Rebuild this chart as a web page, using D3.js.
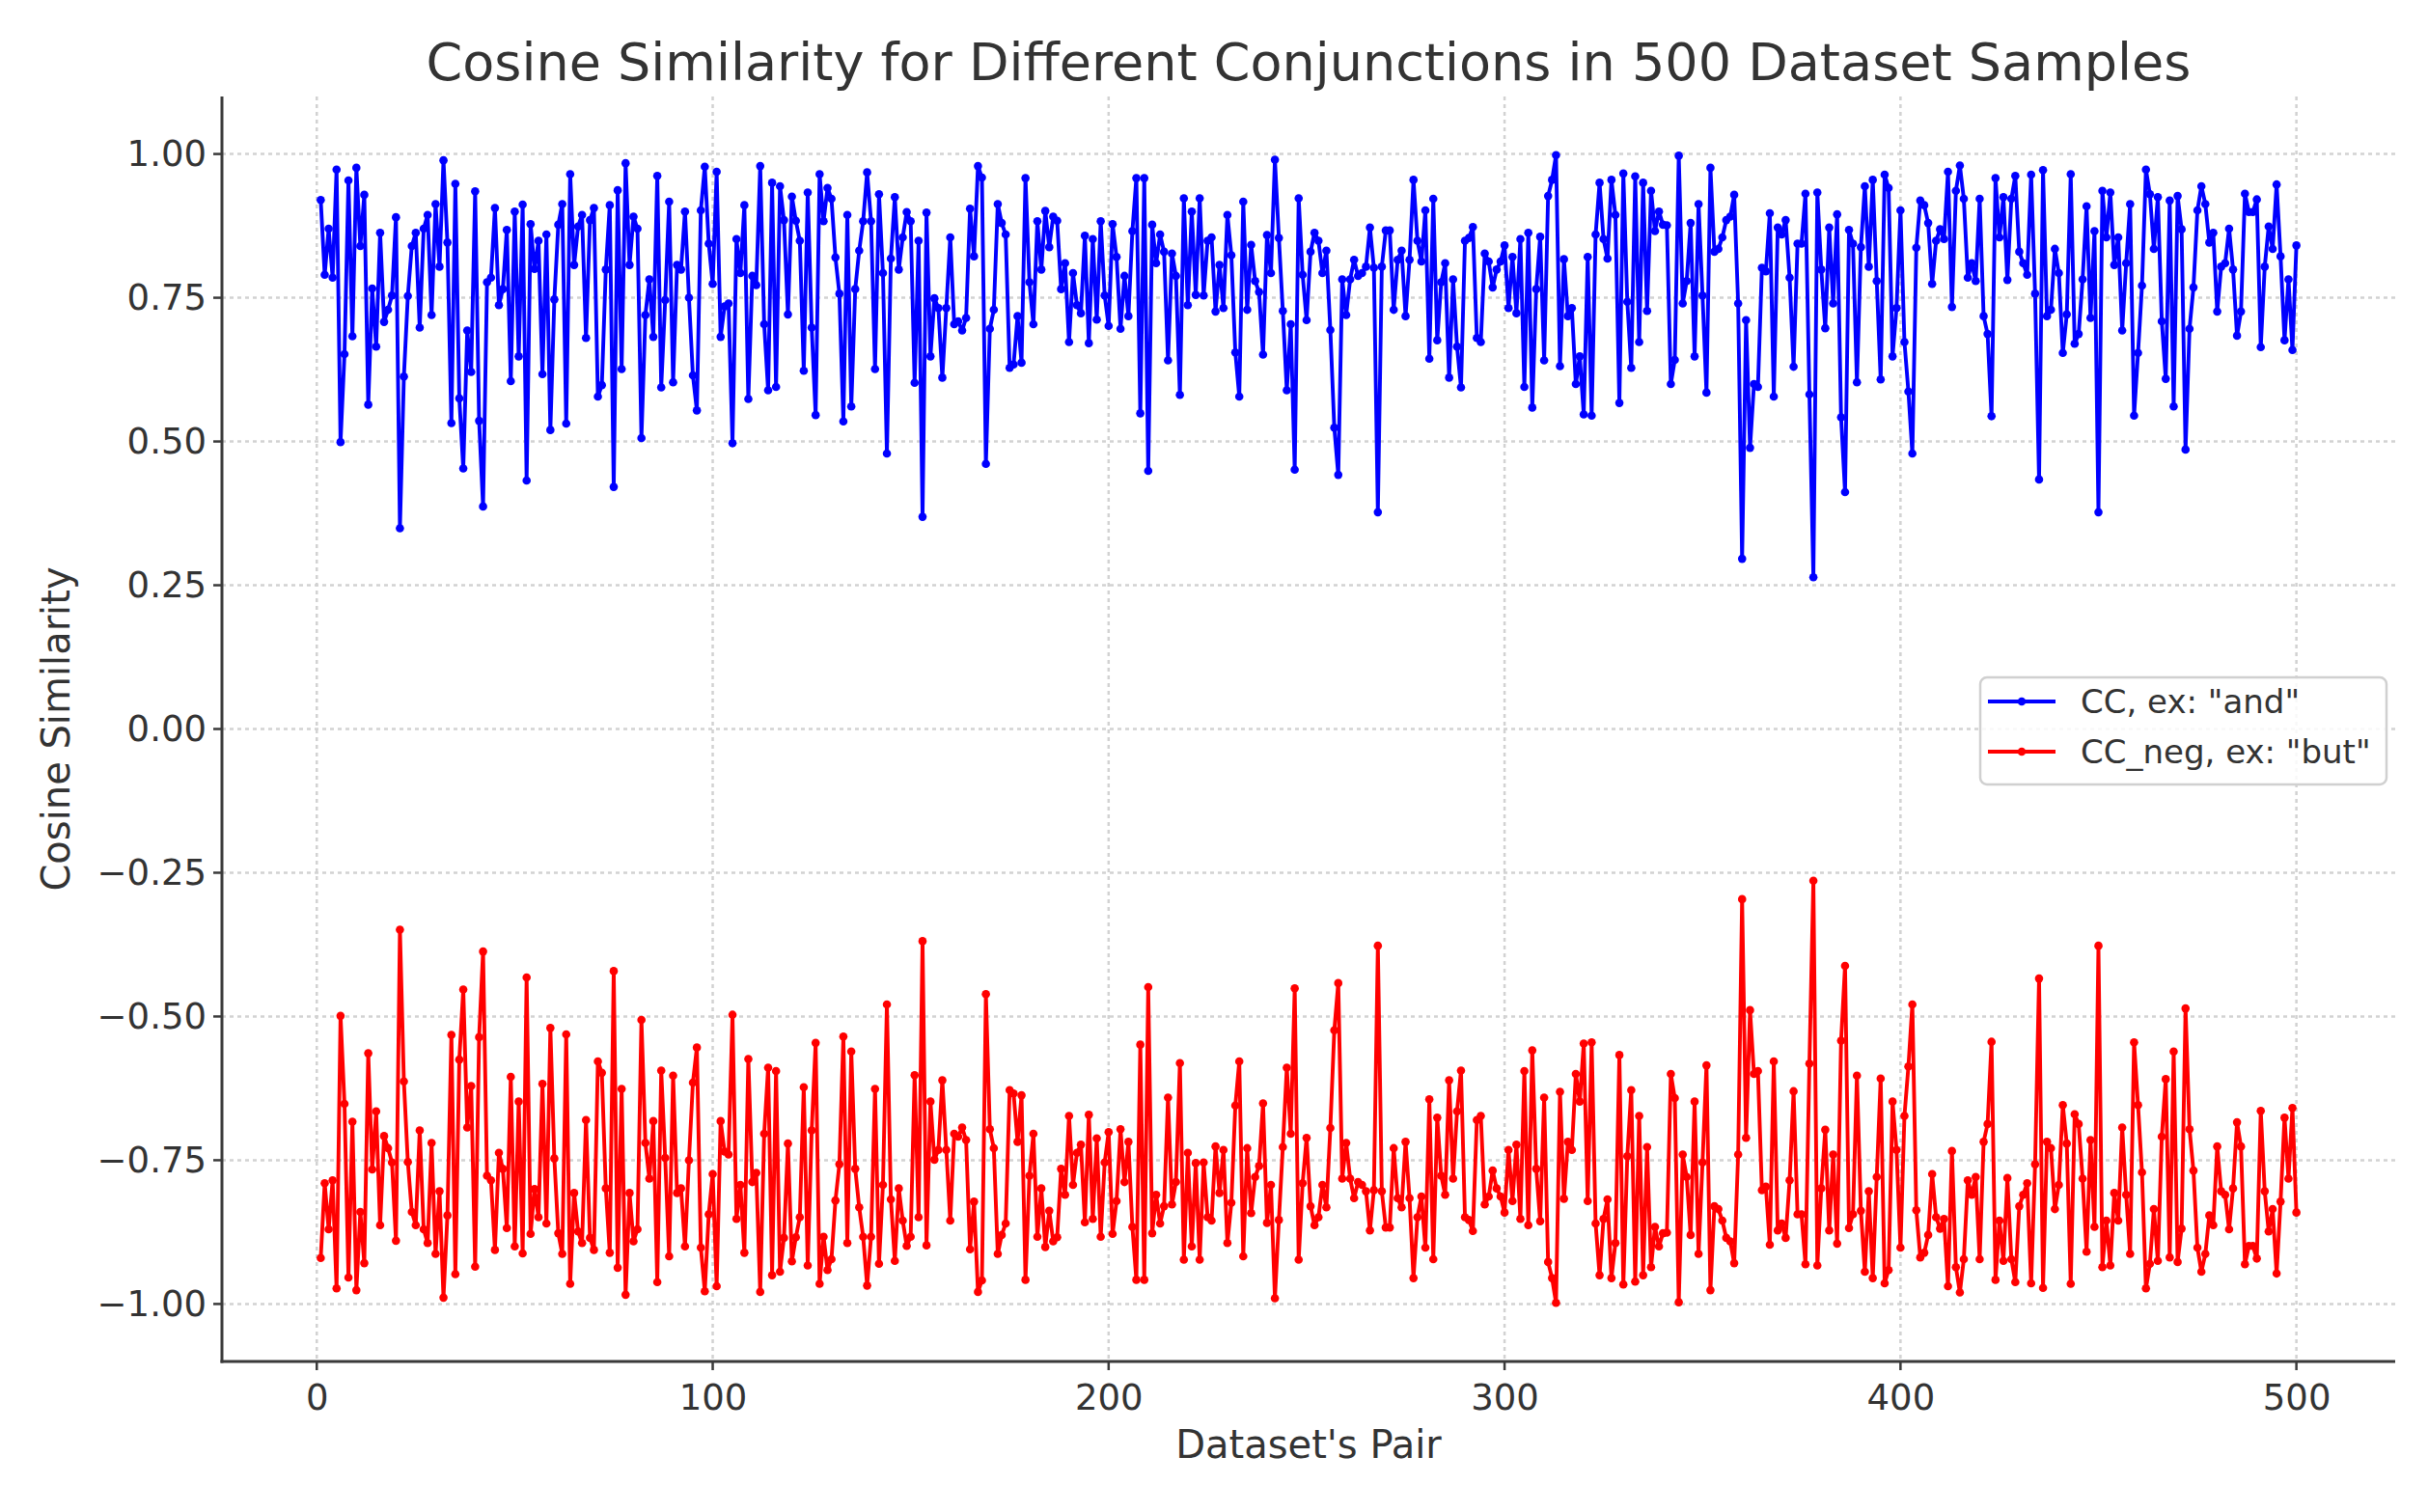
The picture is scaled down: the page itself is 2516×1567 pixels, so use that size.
<!DOCTYPE html>
<html>
<head>
<meta charset="utf-8">
<script src="https://cdn.jsdelivr.net/npm/d3@7"></script>
<style>
  html, body { margin: 0; padding: 0; background: #ffffff; }
  svg { display: block; }
  text { font-family: "DejaVu Sans", "Liberation Sans", sans-serif; }
</style>
</head>
<body>
<svg id="chart" width="2516" height="1567"></svg>
<script>
// ---------------- data ----------------
const chartTitle = "Cosine Similarity for Different Conjunctions in 500 Dataset Samples";
const xAxisLabel = "Dataset's Pair";
const yAxisLabel = "Cosine Similarity";
const seriesNames = ['CC, ex: "and"', 'CC_neg, ex: "but"'];
const seriesColors = ["#0000ff", "#ff0000"];

const xTickValues = [0, 100, 200, 300, 400, 500];
const xTickLabels = ["0", "100", "200", "300", "400", "500"];
const yTickValues = [1.0, 0.75, 0.5, 0.25, 0.0, -0.25, -0.5, -0.75, -1.0];
const yTickLabels = ["1.00", "0.75", "0.50", "0.25", "0.00", "\u22120.25", "\u22120.50", "\u22120.75", "\u22121.00"];

const pairIndex = d3.range(1, 501);

const cosineAnd = [
0.92,0.79,0.87,0.785,0.973,0.499,0.652,0.954,0.683,0.976,
0.84,0.929,0.564,0.766,0.665,0.863,0.708,0.729,0.754,0.89,
0.349,0.613,0.753,0.84,0.863,0.698,0.87,0.894,0.72,0.913,
0.804,0.989,0.846,0.532,0.948,0.575,0.453,0.693,0.621,0.935,
0.536,0.387,0.777,0.785,0.906,0.737,0.765,0.868,0.605,0.9,
0.648,0.912,0.432,0.878,0.8,0.849,0.617,0.86,0.52,0.747,
0.877,0.913,0.531,0.965,0.807,0.874,0.894,0.68,0.885,0.906,
0.578,0.598,0.799,0.911,0.421,0.937,0.626,0.984,0.807,0.891,
0.87,0.506,0.72,0.782,0.682,0.962,0.594,0.746,0.917,0.603,
0.807,0.799,0.9,0.75,0.615,0.554,0.902,0.978,0.844,0.774,
0.969,0.682,0.735,0.74,0.497,0.852,0.793,0.911,0.574,0.788,
0.772,0.979,0.704,0.589,0.95,0.595,0.944,0.885,0.721,0.926,
0.884,0.849,0.623,0.933,0.698,0.546,0.965,0.883,0.941,0.922,
0.82,0.757,0.535,0.894,0.561,0.765,0.832,0.883,0.968,0.883,
0.626,0.93,0.793,0.479,0.818,0.925,0.799,0.855,0.899,0.883,
0.602,0.849,0.369,0.898,0.648,0.749,0.732,0.611,0.732,0.855,
0.704,0.709,0.693,0.715,0.905,0.822,0.979,0.959,0.461,0.696,
0.729,0.913,0.88,0.86,0.628,0.634,0.718,0.637,0.958,0.777,
0.704,0.883,0.799,0.901,0.838,0.891,0.884,0.765,0.81,0.673,
0.793,0.737,0.723,0.858,0.671,0.852,0.712,0.883,0.754,0.701,
0.878,0.821,0.696,0.788,0.718,0.866,0.958,0.549,0.958,0.449,
0.877,0.81,0.86,0.83,0.641,0.827,0.788,0.581,0.923,0.737,
0.9,0.755,0.923,0.754,0.849,0.855,0.726,0.807,0.732,0.894,
0.824,0.655,0.578,0.917,0.729,0.842,0.779,0.76,0.651,0.859,
0.793,0.99,0.854,0.727,0.589,0.704,0.451,0.923,0.79,0.711,
0.83,0.863,0.849,0.793,0.832,0.694,0.524,0.442,0.782,0.72,
0.782,0.816,0.788,0.793,0.804,0.872,0.802,0.377,0.804,0.867,
0.867,0.729,0.816,0.832,0.718,0.816,0.955,0.849,0.813,0.902,
0.644,0.922,0.676,0.777,0.81,0.611,0.782,0.665,0.594,0.849,
0.854,0.873,0.68,0.673,0.827,0.813,0.768,0.799,0.813,0.841,
0.732,0.821,0.723,0.852,0.595,0.863,0.559,0.765,0.856,0.641,
0.927,0.955,0.998,0.631,0.817,0.718,0.732,0.6,0.648,0.547,
0.821,0.545,0.86,0.95,0.852,0.818,0.955,0.894,0.567,0.966,
0.743,0.628,0.961,0.673,0.95,0.727,0.936,0.866,0.9,0.877,
0.876,0.6,0.642,0.997,0.74,0.779,0.88,0.648,0.913,0.754,
0.585,0.976,0.83,0.835,0.855,0.885,0.891,0.929,0.74,0.296,
0.711,0.489,0.6,0.595,0.802,0.796,0.897,0.578,0.872,0.86,
0.885,0.785,0.63,0.844,0.844,0.931,0.582,0.264,0.933,0.799,
0.697,0.872,0.74,0.895,0.542,0.412,0.868,0.844,0.603,0.838,
0.944,0.804,0.955,0.779,0.608,0.964,0.941,0.648,0.732,0.902,
0.673,0.587,0.479,0.837,0.919,0.911,0.88,0.774,0.849,0.869,
0.852,0.969,0.734,0.936,0.98,0.922,0.785,0.81,0.779,0.922,
0.718,0.687,0.544,0.958,0.855,0.925,0.781,0.922,0.962,0.83,
0.81,0.79,0.964,0.757,0.434,0.972,0.718,0.729,0.835,0.793,
0.654,0.721,0.965,0.67,0.687,0.782,0.909,0.715,0.866,0.377,
0.936,0.855,0.933,0.807,0.855,0.693,0.81,0.913,0.545,0.654,
0.771,0.973,0.93,0.835,0.925,0.709,0.609,0.919,0.561,0.927,
0.869,0.486,0.696,0.768,0.902,0.944,0.913,0.846,0.863,0.726,
0.804,0.81,0.87,0.799,0.684,0.726,0.931,0.899,0.899,0.921,
0.664,0.804,0.874,0.835,0.947,0.822,0.676,0.782,0.659,0.841
];

const cosineBut = [
-0.92,-0.79,-0.87,-0.785,-0.973,-0.499,-0.652,-0.954,-0.683,-0.976,
-0.84,-0.929,-0.564,-0.766,-0.665,-0.863,-0.708,-0.729,-0.754,-0.89,
-0.349,-0.613,-0.753,-0.84,-0.863,-0.698,-0.87,-0.894,-0.72,-0.913,
-0.804,-0.989,-0.846,-0.532,-0.948,-0.575,-0.453,-0.693,-0.621,-0.935,
-0.536,-0.387,-0.777,-0.785,-0.906,-0.737,-0.765,-0.868,-0.605,-0.9,
-0.648,-0.912,-0.432,-0.878,-0.8,-0.849,-0.617,-0.86,-0.52,-0.747,
-0.877,-0.913,-0.531,-0.965,-0.807,-0.874,-0.894,-0.68,-0.885,-0.906,
-0.578,-0.598,-0.799,-0.911,-0.421,-0.937,-0.626,-0.984,-0.807,-0.891,
-0.87,-0.506,-0.72,-0.782,-0.682,-0.962,-0.594,-0.746,-0.917,-0.603,
-0.807,-0.799,-0.9,-0.75,-0.615,-0.554,-0.902,-0.978,-0.844,-0.774,
-0.969,-0.682,-0.735,-0.74,-0.497,-0.852,-0.793,-0.911,-0.574,-0.788,
-0.772,-0.979,-0.704,-0.589,-0.95,-0.595,-0.944,-0.885,-0.721,-0.926,
-0.884,-0.849,-0.623,-0.933,-0.698,-0.546,-0.965,-0.883,-0.941,-0.922,
-0.82,-0.757,-0.535,-0.894,-0.561,-0.765,-0.832,-0.883,-0.968,-0.883,
-0.626,-0.93,-0.793,-0.479,-0.818,-0.925,-0.799,-0.855,-0.899,-0.883,
-0.602,-0.849,-0.369,-0.898,-0.648,-0.749,-0.732,-0.611,-0.732,-0.855,
-0.704,-0.709,-0.693,-0.715,-0.905,-0.822,-0.979,-0.959,-0.461,-0.696,
-0.729,-0.913,-0.88,-0.86,-0.628,-0.634,-0.718,-0.637,-0.958,-0.777,
-0.704,-0.883,-0.799,-0.901,-0.838,-0.891,-0.884,-0.765,-0.81,-0.673,
-0.793,-0.737,-0.723,-0.858,-0.671,-0.852,-0.712,-0.883,-0.754,-0.701,
-0.878,-0.821,-0.696,-0.788,-0.718,-0.866,-0.958,-0.549,-0.958,-0.449,
-0.877,-0.81,-0.86,-0.83,-0.641,-0.827,-0.788,-0.581,-0.923,-0.737,
-0.9,-0.755,-0.923,-0.754,-0.849,-0.855,-0.726,-0.807,-0.732,-0.894,
-0.824,-0.655,-0.578,-0.917,-0.729,-0.842,-0.779,-0.76,-0.651,-0.859,
-0.793,-0.99,-0.854,-0.727,-0.589,-0.704,-0.451,-0.923,-0.79,-0.711,
-0.83,-0.863,-0.849,-0.793,-0.832,-0.694,-0.524,-0.442,-0.782,-0.72,
-0.782,-0.816,-0.788,-0.793,-0.804,-0.872,-0.802,-0.377,-0.804,-0.867,
-0.867,-0.729,-0.816,-0.832,-0.718,-0.816,-0.955,-0.849,-0.813,-0.902,
-0.644,-0.922,-0.676,-0.777,-0.81,-0.611,-0.782,-0.665,-0.594,-0.849,
-0.854,-0.873,-0.68,-0.673,-0.827,-0.813,-0.768,-0.799,-0.813,-0.841,
-0.732,-0.821,-0.723,-0.852,-0.595,-0.863,-0.559,-0.765,-0.856,-0.641,
-0.927,-0.955,-0.998,-0.631,-0.817,-0.718,-0.732,-0.6,-0.648,-0.547,
-0.821,-0.545,-0.86,-0.95,-0.852,-0.818,-0.955,-0.894,-0.567,-0.966,
-0.743,-0.628,-0.961,-0.673,-0.95,-0.727,-0.936,-0.866,-0.9,-0.877,
-0.876,-0.6,-0.642,-0.997,-0.74,-0.779,-0.88,-0.648,-0.913,-0.754,
-0.585,-0.976,-0.83,-0.835,-0.855,-0.885,-0.891,-0.929,-0.74,-0.296,
-0.711,-0.489,-0.6,-0.595,-0.802,-0.796,-0.897,-0.578,-0.872,-0.86,
-0.885,-0.785,-0.63,-0.844,-0.844,-0.931,-0.582,-0.264,-0.933,-0.799,
-0.697,-0.872,-0.74,-0.895,-0.542,-0.412,-0.868,-0.844,-0.603,-0.838,
-0.944,-0.804,-0.955,-0.779,-0.608,-0.964,-0.941,-0.648,-0.732,-0.902,
-0.673,-0.587,-0.479,-0.837,-0.919,-0.911,-0.88,-0.774,-0.849,-0.869,
-0.852,-0.969,-0.734,-0.936,-0.98,-0.922,-0.785,-0.81,-0.779,-0.922,
-0.718,-0.687,-0.544,-0.958,-0.855,-0.925,-0.781,-0.922,-0.962,-0.83,
-0.81,-0.79,-0.964,-0.757,-0.434,-0.972,-0.718,-0.729,-0.835,-0.793,
-0.654,-0.721,-0.965,-0.67,-0.687,-0.782,-0.909,-0.715,-0.866,-0.377,
-0.936,-0.855,-0.933,-0.807,-0.855,-0.693,-0.81,-0.913,-0.545,-0.654,
-0.771,-0.973,-0.93,-0.835,-0.925,-0.709,-0.609,-0.919,-0.561,-0.927,
-0.869,-0.486,-0.696,-0.768,-0.902,-0.944,-0.913,-0.846,-0.863,-0.726,
-0.804,-0.81,-0.87,-0.799,-0.684,-0.726,-0.931,-0.899,-0.899,-0.921,
-0.664,-0.804,-0.874,-0.835,-0.947,-0.822,-0.676,-0.782,-0.659,-0.841
];

// ---------------- layout ----------------
const W = 2516, H = 1567;
const plot = { left: 230, right: 2482, top: 100, bottom: 1411 };

const svg = d3.select("#chart");
svg.append("rect").attr("width", W).attr("height", H).attr("fill", "#ffffff");

const x = d3.scaleLinear().domain([-23.95, 524.95]).range([plot.left, plot.right]);
const y = d3.scaleLinear().domain([-1.1, 1.1]).range([plot.bottom, plot.top]);

// grid
const grid = svg.append("g").attr("class", "grid");
grid.selectAll("line.gx").data(xTickValues).enter().append("line")
  .attr("x1", d => x(d)).attr("x2", d => x(d))
  .attr("y1", plot.top).attr("y2", plot.bottom)
  .attr("stroke", "#d2d2d2").attr("stroke-width", 2.5).attr("stroke-dasharray", "4,4");
grid.selectAll("line.gy").data(yTickValues).enter().append("line")
  .attr("x1", plot.left).attr("x2", plot.right)
  .attr("y1", d => y(d)).attr("y2", d => y(d))
  .attr("stroke", "#d2d2d2").attr("stroke-width", 2.5).attr("stroke-dasharray", "4,4");

// series
const series = [
  { name: seriesNames[0], color: seriesColors[0], values: cosineAnd },
  { name: seriesNames[1], color: seriesColors[1], values: cosineBut }
];

const line = d3.line().x(d => x(d[0])).y(d => y(d[1]));

series.forEach(s => {
  const pts = pairIndex.map((p, i) => [p, s.values[i]]).filter(d => d[1] !== undefined);
  const g = svg.append("g");
  g.append("path").datum(pts)
    .attr("d", line)
    .attr("fill", "none")
    .attr("stroke", s.color)
    .attr("stroke-width", 3.9)
    .attr("stroke-linejoin", "round");
  g.selectAll("circle").data(pts).enter().append("circle")
    .attr("cx", d => x(d[0])).attr("cy", d => y(d[1]))
    .attr("r", 4.3).attr("fill", s.color);
});

// axes (left and bottom spines only)
const axisColor = "#3a3a3a";
const xAxis = d3.axisBottom(x).tickValues(xTickValues)
  .tickFormat((d, i) => xTickLabels[i]).tickSize(0).tickPadding(24);
const gx = svg.append("g").attr("transform", `translate(0,${plot.bottom})`).call(xAxis);
gx.select(".domain").remove();
gx.selectAll("text").attr("font-size", 37).attr("fill", "#333333")
  .attr("font-family", "DejaVu Sans, sans-serif");

const yAxis = d3.axisLeft(y).tickValues(yTickValues)
  .tickFormat((d, i) => yTickLabels[i]).tickSize(0).tickPadding(16);
const gy = svg.append("g").attr("transform", `translate(${plot.left},0)`).call(yAxis);
gy.select(".domain").remove();
gy.selectAll("text").attr("font-size", 37).attr("fill", "#333333")
  .attr("font-family", "DejaVu Sans, sans-serif");

// tick marks
svg.append("g").selectAll("line").data(xTickValues).enter().append("line")
  .attr("x1", d => x(d)).attr("x2", d => x(d))
  .attr("y1", plot.bottom).attr("y2", plot.bottom + 9)
  .attr("stroke", axisColor).attr("stroke-width", 2.5);
svg.append("g").selectAll("line").data(yTickValues).enter().append("line")
  .attr("x1", plot.left - 9).attr("x2", plot.left)
  .attr("y1", d => y(d)).attr("y2", d => y(d))
  .attr("stroke", axisColor).attr("stroke-width", 2.5);

// spines
svg.append("line").attr("x1", plot.left).attr("x2", plot.left)
  .attr("y1", plot.top).attr("y2", plot.bottom + 1.5)
  .attr("stroke", axisColor).attr("stroke-width", 3);
svg.append("line").attr("x1", plot.left - 1.5).attr("x2", plot.right)
  .attr("y1", plot.bottom).attr("y2", plot.bottom)
  .attr("stroke", axisColor).attr("stroke-width", 3);

// title & labels
svg.append("text").attr("x", (plot.left + plot.right) / 2).attr("y", 83)
  .attr("text-anchor", "middle").attr("font-size", 54).attr("fill", "#333333")
  .text(chartTitle);
svg.append("text").attr("x", (plot.left + plot.right) / 2).attr("y", 1511)
  .attr("text-anchor", "middle").attr("font-size", 40).attr("fill", "#333333")
  .text(xAxisLabel);
svg.append("text")
  .attr("transform", `translate(72,${(plot.top + plot.bottom) / 2}) rotate(-90)`)
  .attr("text-anchor", "middle").attr("font-size", 40).attr("fill", "#333333")
  .text(yAxisLabel);

// legend
const lg = svg.append("g").attr("transform", "translate(2052,702)");
lg.append("rect").attr("width", 421).attr("height", 111).attr("rx", 7).attr("ry", 7)
  .attr("fill", "#ffffff").attr("fill-opacity", 0.85)
  .attr("stroke", "#d0d0d0").attr("stroke-width", 2.5);
series.forEach((s, i) => {
  const cy = 25 + i * 52;
  lg.append("line").attr("x1", 8).attr("x2", 78).attr("y1", cy).attr("y2", cy)
    .attr("stroke", s.color).attr("stroke-width", 3.9);
  lg.append("circle").attr("cx", 43).attr("cy", cy).attr("r", 4.3).attr("fill", s.color);
  lg.append("text").attr("x", 104).attr("y", cy + 12)
    .attr("font-size", 34).attr("fill", "#333333").text(s.name);
});
</script>
</body>
</html>
